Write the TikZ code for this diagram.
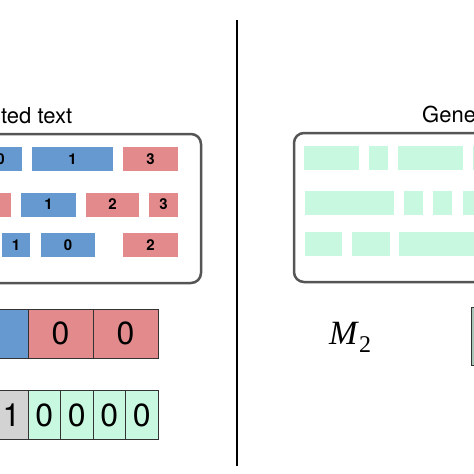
\documentclass[tikz,border=0pt]{standalone}
\usepackage{fontspec}
\setmainfont{TeX Gyre Heros}
\newfontfamily\timesfont{Liberation Serif}
\definecolor{tokblue}{HTML}{6699CF}
\definecolor{tokred}{HTML}{E38B8C}
\definecolor{tokgreen}{HTML}{C8F9E0}
\definecolor{tokgray}{HTML}{D3D3D3}
\definecolor{boxgray}{HTML}{555555}
\definecolor{modelgreen}{HTML}{A9C6B8}
\tikzset{
	tok/.style={inner sep=0, minimum height=24pt, font=\bfseries\fontsize{15}{15}\selectfont},
	blue tok/.style={tok, fill=tokblue},
	red tok/.style={tok, fill=tokred},
	gen tok/.style={tok, fill=tokgreen},
	cell/.style={draw=black!80, line width=0.8pt, inner sep=0, minimum height=49pt, font=\fontsize{32}{32}\selectfont},
	panel/.style={draw=boxgray, line width=2.5pt, rounded corners=10pt},
	title/.style={anchor=base west, inner sep=0, font=\fontsize{22}{22}\selectfont}
}
\begin{document}
\begin{tikzpicture}[x=1pt, y=-1pt]
\useasboundingbox (0,0) rectangle (474,474);
\clip (0,0) rectangle (474,474);

% divider
\draw[line width=2pt] (237,20) -- (237,466);

% left panel
\node[title] (titleL) at (1,123) {ted text};
\draw[panel] (-50,134) rectangle (201,283);
\node[blue tok, minimum width=52pt] (a1) at (-4,159) {};
\node[tok] (a1lbl) at (0.5,159) {0};
\node[blue tok, minimum width=81pt] (a2) at (72.5,159) {1};
\node[red tok, minimum width=55pt] (a3) at (150.5,159) {3};
\node[red tok, minimum width=51pt] (b1) at (-14.5,204.5) {};
\node[blue tok, minimum width=55pt] (b2) at (48.5,204.5) {1};
\node[red tok, minimum width=53pt] (b3) at (112.5,204.5) {2};
\node[red tok, minimum width=29pt] (b4) at (163.5,204.5) {3};
\node[blue tok, minimum width=28pt] (c1) at (16,245) {1};
\node[blue tok, minimum width=54pt] (c2) at (68,245) {0};
\node[red tok, minimum width=55pt] (c3) at (150.5,245) {2};

\node[cell, fill=tokblue, minimum width=65pt] (s1) at (-4.5,333.5) {};
\node[cell, fill=tokred, minimum width=65pt] (s2) at (60.5,333.5) {0};
\node[cell, fill=tokred, minimum width=65pt] (s3) at (125.5,333.5) {0};

\node[cell, fill=tokgray, minimum width=33pt] (m1) at (11.5,415) {1};
\foreach \i/\x in {2/44.25,3/76.75,4/109.25,5/141.75}
	\node[cell, fill=tokgreen, minimum width=32.5pt] (m\i) at (\x,415) {0};

% right panel
\node[title] (titleR) at (422,122) {Gener};
\draw[panel] (294,133) rectangle (530,282);
\node[gen tok, minimum width=55pt] (g1) at (331.5,158) {};
\node[gen tok, minimum width=19pt] (g2) at (378.5,158) {};
\node[gen tok, minimum width=65pt] (g3) at (430.5,158) {};
\node[gen tok, minimum width=30pt] (g4) at (488,158) {};
\node[gen tok, minimum width=89pt] (h1) at (349.5,203) {};
\node[gen tok, minimum width=19pt] (h2) at (413.5,203) {};
\node[gen tok, minimum width=19pt] (h3) at (442.5,203) {};
\node[gen tok, minimum width=30pt] (h4) at (478,203) {};
\node[gen tok, minimum width=37pt] (k1) at (323.5,244) {};
\node[gen tok, minimum width=38pt] (k2) at (371,244) {};
\node[gen tok, minimum width=90pt] (k3) at (444,244) {};

\node[font=\timesfont\fontsize{34}{34}\selectfont, anchor=base west, inner sep=0] (model) at (329,344) {\textit{M}\raisebox{-0.25em}{\fontsize{24}{24}\selectfont 2}};
\draw[draw=black!80, line width=0.8pt, fill=modelgreen] (471,307) rectangle (520,365);
\end{tikzpicture}
\end{document}
